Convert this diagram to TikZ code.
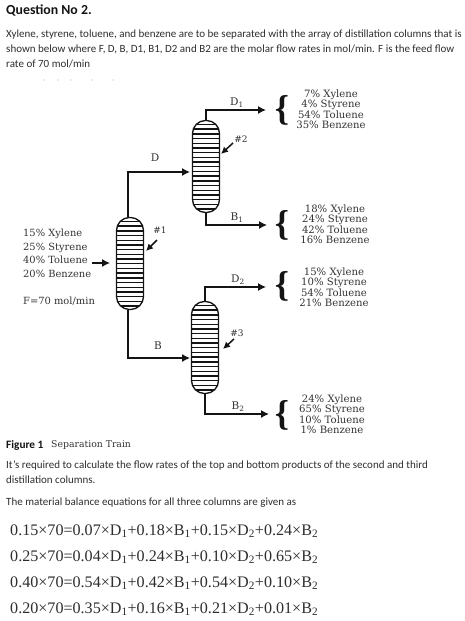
\documentclass[tikz,border=0pt]{standalone}
\usepackage{fontspec}
\setmainfont{Carlito}
\newfontfamily\slabfont{DejaVu Serif}
\newfontfamily\eqnfont{Liberation Serif}
\usetikzlibrary{arrows.meta}
\definecolor{ptink}{HTML}{141414}
\definecolor{ptbody}{HTML}{2E2E2E}
\definecolor{ptmuted}{HTML}{333333}
\definecolor{ptdots}{HTML}{B0B0B0}
\tikzset{
  column/.style={rectangle,rounded corners=13pt,draw=ptink,line width=1.3pt,minimum width=27pt,minimum height=92pt,inner sep=0pt,
    path picture={\foreach \yy in {-42.5,-37.8,...,43} \draw[ptink,line width=1.4pt] ([yshift=\yy pt]path picture bounding box.west)--([yshift=\yy pt]path picture bounding box.east);}},
  stream/.style={-{Latex[length=8pt,width=8pt]},draw=ptink,line width=1.3pt},
  pointer/.style={-{Latex[length=7pt,width=7pt]},draw=ptink,line width=1.5pt},
  comp/.style={font=\slabfont\fontsize{10.1}{9.7}\selectfont,text=ptmuted,align=center,inner sep=0pt},
  feedtext/.style={font=\slabfont\fontsize{9.9}{13.6}\selectfont,text=ptmuted,align=left,anchor=north west,inner sep=0pt},
  tag/.style={font=\slabfont\fontsize{10.5}{10}\selectfont,text=ptmuted,inner sep=0pt},
  numtag/.style={font=\slabfont\fontsize{9}{9}\selectfont,text=ptmuted,inner sep=0pt},
  curly/.style={font=\eqnfont\bfseries\fontsize{36}{36}\selectfont,text=ptink,inner sep=0pt},
  bodytext/.style={font=\fontsize{11}{14.6}\selectfont,text=ptbody,anchor=north west,inner sep=0pt,align=left},
  eqn/.style={font=\eqnfont\fontsize{16.1}{17}\selectfont,text=ptbody,anchor=west,inner sep=0pt},
}
\newcommand{\sub}[1]{\textsubscript{#1}}

\begin{document}
\begin{tikzpicture}[x=1pt,y=-1pt]
  \path[use as bounding box] (0,0) rectangle (464,621);
  \fill[white] (0,0) rectangle (464,621);
  \node[font=\bfseries\fontsize{13.8}{15}\selectfont,text=ptink,anchor=west,inner sep=0pt] (head) at (6,11) {Question No 2.};
  \node[bodytext] (intro) at (6,30) {Xylene, styrene, toluene, and benzene are to be separated with the array of distillation columns that is\\shown below where F, D, B, D1, B1, D2 and B2 are the molar flow rates in mol/min. F is the feed flow\\rate of 70 mol/min};
  \foreach \dotx in {44,58,71,92,113} \fill[ptdots] (\dotx,80) circle (.6pt);

  \node[column] (col1) at (130,263.5) {};
  \node[column] (col2) at (206,166.5) {};
  \node[column] (col3) at (205,347.5) {};
  \coordinate (feed) at (92,263);
  \coordinate (feedend) at (110,263);
  \coordinate (dend) at (190,172);
  \coordinate (bend) at (190,358);
  \coordinate (d1end) at (266,110);
  \coordinate (b1end) at (267,225);
  \coordinate (d2end) at (266,287);
  \coordinate (b2end) at (269,414);
  \draw[stream] (feed)--(feedend);
  \draw[stream] ([xshift=-2pt]col1.north)|-(dend);
  \draw[stream] ([xshift=-2pt]col1.south)|-(bend);
  \draw[stream] (col2.north)|-(d1end);
  \draw[stream] (col2.south)|-(b1end);
  \draw[stream] (col3.north)|-(d2end);
  \draw[stream] (col3.south)|-(b2end);

  \node[tag] (tagd) at (155,158) {D};
  \node[tag] (tagb) at (158,346) {B};
  \node[tag] (tagd1) at (237,103) {D\sub{1}};
  \node[tag] (tagb1) at (237,218) {B\sub{1}};
  \node[tag] (tagd2) at (238,280) {D\sub{2}};
  \node[tag] (tagb2) at (238,407) {B\sub{2}};

  \coordinate (num1) at (157,240);
  \coordinate (num2) at (233,143);
  \coordinate (num3) at (234,339);
  \coordinate (hit1) at (146,251);
  \coordinate (hit2) at (221,154);
  \coordinate (hit3) at (223,349);
  \node[numtag] (tag1) at (160,230) {\#1};
  \node[numtag] (tag2) at (241,139) {\#2};
  \node[numtag] (tag3) at (237,333) {\#3};
  \draw[pointer] (num1)--(hit1);
  \draw[pointer] (num2)--(hit2);
  \draw[pointer] (num3)--(hit3);

  \node[feedtext] (feedmix) at (23,229) {15\% Xylene\\25\% Styrene\\40\% Toluene\\20\% Benzene\\[13.6pt]F=70 mol/min};

  \node[comp] (mixd1) at (331,109) {7\% Xylene\\4\% Styrene\\54\% Toluene\\35\% Benzene};
  \node[comp] (mixb1) at (335,224) {18\% Xylene\\24\% Styrene\\42\% Toluene\\16\% Benzene};
  \node[comp] (mixd2) at (334,287) {15\% Xylene\\10\% Styrene\\54\% Toluene\\21\% Benzene};
  \node[comp] (mixb2) at (332,414) {24\% Xylene\\65\% Styrene\\10\% Toluene\\1\% Benzene};
  \node[curly] (braced1) at (282,110) {\{};
  \node[curly] (braceb1) at (282,225) {\{};
  \node[curly] (braced2) at (282,286) {\{};
  \node[curly] (braceb2) at (282,415) {\{};

  \node[font=\bfseries\fontsize{11.3}{12}\selectfont,text=ptink,anchor=west,inner sep=0pt] (figlabel) at (6,445) {Figure 1};
  \node[font=\slabfont\fontsize{9.3}{10}\selectfont,text=ptmuted,anchor=west,inner sep=0pt] (figtitle) at (51,445) {Separation Train};
  \node[bodytext] (task) at (6,461) {It's required to calculate the flow rates of the top and bottom products of the second and third\\distillation columns.};
  \node[bodytext] (given) at (6,498) {The material balance equations for all three columns are given as};

  \node[eqn] (eq1) at (10,531) {0.15×70=0.07×D\sub{1}+0.18×B\sub{1}+0.15×D\sub{2}+0.24×B\sub{2}};
  \node[eqn] (eq2) at (10,557) {0.25×70=0.04×D\sub{1}+0.24×B\sub{1}+0.10×D\sub{2}+0.65×B\sub{2}};
  \node[eqn] (eq3) at (10,583) {0.40×70=0.54×D\sub{1}+0.42×B\sub{1}+0.54×D\sub{2}+0.10×B\sub{2}};
  \node[eqn] (eq4) at (10,609) {0.20×70=0.35×D\sub{1}+0.16×B\sub{1}+0.21×D\sub{2}+0.01×B\sub{2}};
\end{tikzpicture}
\end{document}
